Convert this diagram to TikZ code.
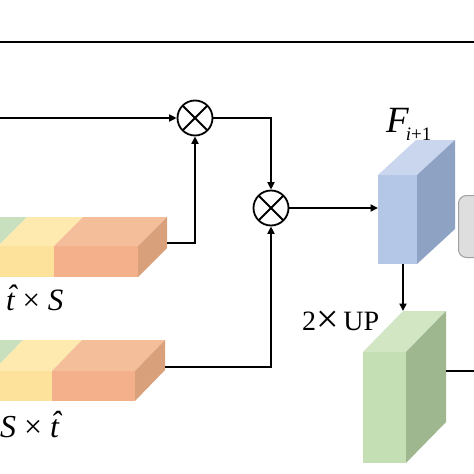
\documentclass[tikz,border=0pt]{standalone}
\usepackage{fontspec}
\setmainfont{Liberation Serif}
\usetikzlibrary{arrows.meta}
\definecolor{ylwfront}{HTML}{FDE29B}
\definecolor{ylwtop}{HTML}{FEE9AE}
\definecolor{orgfront}{HTML}{F3B08A}
\definecolor{orgtop}{HTML}{F5BE9B}
\definecolor{orgside}{HTML}{D9A07C}
\definecolor{grntop}{HTML}{C8E0BE}
\definecolor{bluefront}{HTML}{B4C7E7}
\definecolor{bluetop}{HTML}{C9D6EE}
\definecolor{blueside}{HTML}{8EA3C4}
\definecolor{gbfront}{HTML}{C5DFB4}
\definecolor{gbtop}{HTML}{D2E6C4}
\definecolor{gbside}{HTML}{9EB78F}
\definecolor{grayfill}{HTML}{DEDEDE}
\definecolor{graybd}{HTML}{A0A0A0}
\newcommand\hatt{{\itshape\accent"02C6 t}}
\begin{document}
\begin{tikzpicture}[x=1pt,y=-1pt,
  conn/.style={line width=1.8pt},
  arr/.style={conn,-{Triangle[length=7.5pt,width=7pt]}},
  mult/.style={circle,draw,line width=1.8pt,minimum size=35pt,inner sep=0pt,
    path picture={\draw[line width=1.8pt] (path picture bounding box.north west)--(path picture bounding box.south east)
      (path picture bounding box.north east)--(path picture bounding box.south west);}},
  face/.style={inner sep=0pt,outer sep=0pt},
  lbl/.style={inner sep=0pt,anchor=base west}]
\useasboundingbox (0,0) rectangle (474,474);
\fill[white] (0,0) rectangle (474,474);
\clip (0,0) rectangle (474,474);
% top rule
\coordinate (ruleL) at (0,42);
\coordinate (ruleR) at (474,42);
\draw[line width=1.8pt] (ruleL) -- (ruleR);
% block A (t x S)
\fill[grntop] (-40,246) -- (-2,246) -- (27,217) -- (-11,217) -- cycle;
\fill[ylwfront] (-10,246) rectangle (54,277);
\fill[ylwtop] (-2,246) -- (54,246) -- (83,217) -- (27,217) -- cycle;
\fill[orgfront] (54,246) rectangle (138,277);
\fill[orgtop] (54,246) -- (138,246) -- (167,217) -- (83,217) -- cycle;
\fill[orgside] (138,246) -- (167,217) -- (167,248) -- (138,277) -- cycle;
\coordinate (aout) at (167,243);
% block B (S x t)
\fill[grntop] (-50,371) -- (-7,371) -- (23,340) -- (-20,340) -- cycle;
\fill[ylwfront] (-10,371) rectangle (52,401);
\fill[ylwtop] (-7,371) -- (52,371) -- (82,340) -- (23,340) -- cycle;
\fill[orgfront] (52,371) rectangle (135,401);
\fill[orgtop] (52,371) -- (135,371) -- (165,340) -- (82,340) -- cycle;
\fill[orgside] (135,371) -- (165,340) -- (165,370) -- (135,401) -- cycle;
\coordinate (bout) at (165,367);
% multiplications
\node[mult] (c1) at (195,118) {};
\node[mult] (c2) at (271,208) {};
% blue block
\node[face,fill=bluefront,minimum width=39pt,minimum height=89pt] (blue) at (397.5,219.5) {};
\fill[bluetop] (blue.north west) -- (blue.north east) -- ++(38,-35) -- ++(-39,0) -- cycle;
\fill[blueside] (blue.north east) -- ++(38,-35) -- ++(0,89) -- (blue.south east) -- cycle;
% green block
\node[face,fill=gbfront,minimum width=43pt,minimum height=111pt] (gb) at (384.5,407.5) {};
\fill[gbtop] (gb.north west) -- (gb.north east) -- ++(40,-41) -- ++(-43,0) -- cycle;
\fill[gbside] (gb.north east) -- ++(40,-41) -- ++(0,111) -- (gb.south east) -- cycle;
\path (gb.north west) ++(40,-41) coordinate (gtop);
\coordinate (gout) at (446,371);
\coordinate (gend) at (474,371);
% gray box
\node[draw=graybd,fill=grayfill,rounded corners=8pt,line width=1pt,minimum width=40pt,minimum height=62pt,anchor=north west] (gr) at (458,195) {};
% input
\coordinate (in1) at (0,118);
% connectors
\draw[arr] (in1) -- (c1.west);
\draw[arr] (aout) -| (c1.south);
\draw[arr] (c1.east) -| (c2.north);
\draw[arr] (bout) -| (c2.south);
\draw[arr] (c2.east) -- (c2 -| blue.west);
\draw[arr] (blue.south -| gtop) -- (gtop);
\draw[conn] (gout) -- (gend);
% labels
\node[lbl] (flbl) at (386,132) {\fontsize{37}{37}\selectfont\itshape F\kern-3pt\raisebox{-8pt}{\fontsize{19}{19}\selectfont i\upshape +1}};
\node[lbl] (uplbl) at (302,330) {\fontsize{28}{28}\selectfont 2\raisebox{-2.5pt}{\fontsize{40}{40}\selectfont ×}\,UP};
\node[lbl] (l1) at (6,310) {\fontsize{31}{31}\selectfont\hatt\ × \textit{S}};
\node[lbl] (l2) at (0,437) {\fontsize{32}{32}\selectfont\textit{S} × \hatt};
\end{tikzpicture}
\end{document}
